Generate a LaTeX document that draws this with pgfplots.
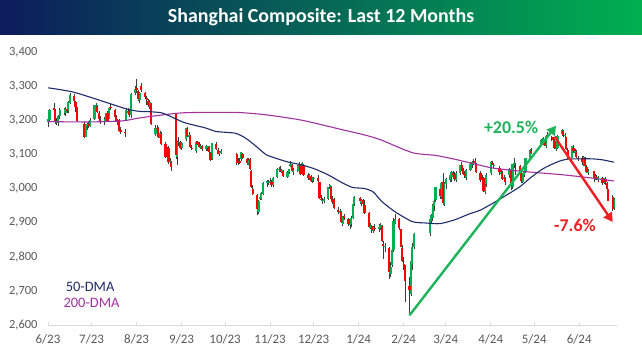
\documentclass[border=0pt]{standalone}
\usepackage{pgfplots}
\pgfplotsset{compat=1.18}
\usepackage{pgfplotstable}
\usepackage{fontspec}
\setmainfont{Carlito}
\usetikzlibrary{arrows.meta}
\definecolor{tnavy}{HTML}{0C1C5C}
\definecolor{tteal}{HTML}{09585C}
\definecolor{tgreen}{HTML}{00B050}
\definecolor{cgreen}{HTML}{00B050}
\definecolor{cred}{HTML}{FF0000}
\definecolor{wick}{HTML}{3C3C3C}
\definecolor{dnavy}{HTML}{1E2C6B}
\definecolor{dpurple}{HTML}{A033A0}
\definecolor{lgray}{HTML}{D9D9D9}
\definecolor{tgray}{HTML}{595959}
\definecolor{agreen}{HTML}{1DB35A}
\definecolor{ared}{HTML}{F01E23}

\pgfplotstableread{
d o h l c
0 3196 3210 3181 3204
1 3200 3232 3195 3230
4 3235 3250 3224 3232
5 3230 3233 3189 3195
6 3194 3208 3186 3197
7 3193 3215 3183 3213
8 3211 3235 3205 3231
11 3228 3235 3216 3228
12 3220 3238 3212 3234
13 3234 3240 3222 3229
14 3226 3255 3220 3253
15 3252 3279 3248 3273
18 3270 3278 3250 3255
19 3254 3256 3225 3240
20 3238 3240 3195 3197
25 3190 3196 3148 3150
26 3152 3190 3150 3189
27 3184 3192 3170 3189
28 3190 3197 3177 3182
29 3183 3206 3180 3202
32 3205 3245 3200 3244
33 3243 3250 3235 3245
34 3240 3246 3220 3223
35 3222 3226 3200 3205
36 3200 3212 3190 3197
39 3198 3210 3185 3203
40 3200 3222 3195 3221
41 3220 3226 3195 3196
42 3205 3240 3203 3237
43 3240 3248 3230 3238
46 3230 3232 3205 3210
47 3210 3215 3195 3198
48 3195 3205 3185 3199
49 3200 3205 3165 3169
50 3170 3180 3160 3168
53 3165 3175 3150 3164
54 3200 3235 3198 3231
55 3228 3235 3215 3223
56 3225 3230 3210 3216
57 3216 3280 3208 3276
60 3280 3300 3275 3291
61 3295 3322 3280 3290
62 3285 3290 3255 3262
63 3260 3284 3250 3281
64 3300 3310 3282 3288
67 3280 3282 3262 3269
68 3265 3270 3245 3260
69 3255 3262 3240 3244
70 3240 3258 3232 3254
71 3250 3252 3185 3189
74 3160 3185 3155 3178
75 3178 3185 3168 3176
76 3176 3180 3148 3150
77 3148 3168 3145 3163
78 3160 3166 3128 3131
81 3130 3135 3088 3092
82 3095 3123 3085 3120
83 3118 3125 3072 3078
84 3080 3088 3065 3082
85 3075 3080 3052 3064
88 3219 3219 3086 3098
89 3093 3138 3070 3135
90 3136 3150 3125 3137
91 3135 3140 3115 3119
92 3118 3135 3112 3133
95 3145 3178 3140 3177
96 3175 3180 3150 3154
97 3150 3165 3145 3158
98 3155 3158 3120 3122
99 3120 3128 3112 3117
102 3110 3140 3105 3137
103 3135 3140 3128 3134
104 3130 3135 3120 3123
105 3120 3130 3115 3126
106 3125 3128 3110 3117
109 3115 3128 3110 3125
110 3122 3126 3110 3124
111 3122 3125 3105 3108
112 3105 3108 3082 3084
113 3085 3134 3083 3132
116 3130 3135 3112 3115
117 3112 3118 3100 3102
118 3100 3110 3095 3107
119 3105 3115 3100 3110
130 3100 3105 3068 3076
131 3078 3090 3070 3075
132 3080 3090 3072 3078
133 3085 3108 3082 3107
134 3100 3105 3085 3088
137 3085 3090 3070 3074
138 3072 3088 3068 3084
139 3085 3090 3055 3058
140 3050 3055 3002 3005
141 3000 3010 2980 2983
144 2980 2985 2923 2939
145 2930 2965 2925 2962
146 2970 2985 2965 2974
147 2970 2990 2965 2988
148 2985 3020 2980 3017
151 3015 3025 3005 3021
152 3018 3025 3010 3019
153 3020 3030 3010 3023
154 3020 3025 3005 3009
155 3010 3035 3005 3030
158 3035 3060 3030 3058
159 3055 3062 3048 3057
160 3055 3065 3048 3052
161 3050 3058 3045 3053
162 3050 3055 3035 3038
165 3035 3050 3030 3047
166 3047 3058 3042 3056
167 3065 3080 3062 3073
168 3070 3072 3048 3050
169 3048 3060 3040 3054
172 3052 3070 3048 3068
173 3068 3078 3060 3067
174 3065 3068 3040 3043
175 3045 3078 3042 3074
176 3070 3072 3038 3041
179 3040 3045 3025 3031
180 3030 3042 3025 3039
181 3038 3040 3018 3021
182 3022 3035 3015 3030
183 3028 3035 3018 3032
186 3030 3040 3018 3022
187 3018 3020 2968 2972
188 2970 2980 2962 2969
189 2965 2972 2955 2966
190 2965 2975 2958 2969
193 2970 3005 2965 3003
194 3005 3012 2998 3009
195 3005 3008 2965 2968
196 2970 2978 2955 2959
197 2965 2972 2940 2942
200 2938 2945 2925 2930
201 2928 2940 2920 2933
202 2932 2935 2898 2902
203 2895 2920 2890 2918
204 2918 2925 2908 2914
207 2912 2915 2890 2895
208 2895 2900 2882 2898
209 2896 2918 2888 2915
210 2915 2958 2912 2954
211 2955 2978 2950 2975
215 2972 2976 2955 2962
216 2958 2970 2950 2967
217 2965 2968 2950 2954
218 2952 2965 2925 2929
221 2928 2932 2885 2887
222 2885 2898 2880 2893
223 2890 2892 2870 2877
224 2875 2890 2870 2886
225 2885 2895 2875 2882
228 2880 2895 2872 2886
229 2885 2900 2878 2894
230 2890 2892 2843 2845
231 2838 2845 2792 2833
232 2830 2840 2815 2832
235 2825 2830 2735 2756
236 2750 2785 2740 2770
237 2775 2825 2770 2820
238 2820 2915 2815 2906
239 2900 2925 2895 2910
242 2910 2915 2878 2883
243 2880 2882 2828 2830
244 2827 2835 2785 2789
245 2780 2798 2760 2771
246 2770 2775 2666 2730
249 2715 2740 2635 2702
250 2690 2795 2685 2789
251 2780 2840 2760 2829
252 2830 2870 2822 2866
263 2870 2912 2860 2910
264 2905 2925 2895 2922
265 2915 2955 2905 2951
266 2948 2966 2935 2964
267 2965 3005 2960 3004
270 3000 3010 2970 2977
271 2975 3018 2970 3015
272 3018 3045 2952 2958
273 2955 3018 2950 3015
274 3012 3030 3000 3027
277 3025 3045 3020 3039
278 3035 3050 3020 3048
279 3045 3052 3030 3040
280 3040 3048 3022 3027
281 3025 3050 3020 3046
284 3045 3070 3040 3068
285 3068 3078 3050 3055
286 3055 3060 3040 3043
287 3042 3050 3030 3036
288 3030 3058 3025 3054
291 3055 3078 3052 3073
292 3070 3082 3060 3079
293 3075 3085 3068 3079
294 3080 3090 3070 3077
295 3072 3075 3045 3048
298 3045 3050 3020 3026
299 3025 3040 3020 3031
300 3030 3035 2990 2993
301 2990 3015 2985 3011
302 3012 3045 3005 3041
305 3045 3080 3040 3077
306 3075 3080 3068 3074
307 3068 3075 3060 3069
311 3060 3065 3040 3047
312 3045 3055 3035 3048
313 3045 3050 3025 3027
314 3030 3040 3020 3034
315 3030 3035 3010 3019
318 3040 3060 3030 3057
319 3055 3058 2995 3007
320 3005 3072 3000 3071
321 3070 3090 3060 3074
322 3065 3075 3040 3065
325 3065 3070 3040 3045
326 3045 3048 3015 3021
327 3020 3045 3015 3044
328 3040 3060 3035 3052
329 3050 3090 3045 3088
332 3090 3115 3085 3113
333 3110 3120 3100 3105
340 3130 3145 3125 3141
341 3140 3150 3135 3148
342 3140 3145 3125 3128
343 3125 3156 3120 3155
344 3155 3165 3145 3154
347 3150 3155 3140 3149
348 3148 3150 3135 3145
349 3140 3145 3115 3119
350 3118 3125 3110 3122
351 3120 3158 3115 3155
354 3160 3175 3155 3171
355 3168 3172 3150 3157
356 3155 3162 3145 3158
357 3150 3152 3112 3116
358 3112 3118 3085 3089
361 3090 3125 3088 3124
362 3120 3128 3105 3110
363 3105 3115 3100 3111
364 3108 3112 3088 3091
365 3090 3095 3080 3087
368 3090 3095 3070 3078
369 3070 3095 3065 3091
370 3090 3092 3060 3065
371 3062 3068 3045 3049
372 3048 3058 3040 3051
376 3050 3052 3020 3028
377 3028 3042 3025 3037
378 3035 3040 3025 3029
379 3025 3038 3020 3033
382 3030 3035 3010 3016
383 3015 3032 3012 3030
384 3028 3035 3010 3018
385 3015 3020 2995 2998
386 2998 3000 2962 2964
389 2975 2980 2935 2940
390 2942 2972 2938 2968
}\ohlc

\pgfplotstableread{
d v
0 3295
5 3292
17 3283
28 3269
41 3251
55 3232
63 3226
70 3225
78 3222
84 3212
94 3193
108 3178
116 3167
129 3162
136 3148
143 3125
150 3100
156 3090
165 3078
175 3069
184 3057
193 3040
203 3016
210 3003
218 3000
224 2990
230 2962
239 2932
251 2903
260 2899
270 2897
280 2908
290 2925
298 2937
307 2958
316 2981
325 3005
332 3030
341 3058
351 3078
358 3086
374 3087
382 3084
390 3077
}\dmafifty

\pgfplotstableread{
d v
0 3196
28 3195
51 3198
62 3206
74 3213
94 3222
129 3223
150 3216
175 3200
203 3172
218 3157
229 3143
251 3105
267 3097
280 3086
291 3075
305 3061
316 3055
330 3049
355 3040
374 3031
390 3022
}\dmatwohundred

\begin{document}
\begin{tikzpicture}[x=1bp,y=1bp]
\useasboundingbox (0,0) rectangle (642,351);
\shade[left color=tnavy, middle color=tteal, right color=tgreen] (0,317) rectangle (642,351);
\node[text=white, font=\fontsize{20}{22}\selectfont\bfseries] at (321,334) {Shanghai Composite: Last 12 Months};
\begin{axis}[
  at={(48bp,26bp)}, anchor=south west, scale only axis,
  width=569bp, height=273bp,
  xmin=0, xmax=392, ymin=2600, ymax=3400,
  clip=false,
  axis x line*=bottom, axis y line*=left,
  axis line style={-},
  x axis line style={draw=lgray, line width=0.8bp},
  y axis line style={draw=none},
  ytick={2600,2700,...,3400},
  xtick={0,30,61,92,122,153,183,214,245,274,305,335,366},
  xticklabels={6/23,7/23,8/23,9/23,10/23,11/23,12/23,1/24,2/24,3/24,4/24,5/24,6/24},
  tick align=inside, major tick length=3bp,
  xtick style={draw=lgray, line width=0.8bp},
  ytick style={draw=none},
  /pgf/number format/.cd, 1000 sep={,}, assume math mode=true,
  /pgfplots/.cd,
  yticklabel style={font=\fontsize{12.5}{14}\selectfont, text=tgray, anchor=east, xshift=-7bp},
  xticklabel style={font=\fontsize{13}{15}\selectfont, text=tgray, anchor=north, yshift=-6bp},
]
% wicks: thin high-low lines
\addplot[draw=none, mark=none, forget plot,
  error bars/.cd, y dir=both, y explicit, error mark=none,
  error bar style={line width=0.45bp, draw=wick, solid}]
  table[x=d, y expr={(\thisrow{h}+\thisrow{l})/2}, y error expr={(\thisrow{h}-\thisrow{l})/2}] {\ohlc};
% bodies, green for rising days
\addplot[draw=none, mark=none, forget plot,
  error bars/.cd, y dir=both, y explicit, error mark=none,
  error bar style={line width=2.2bp, draw=cgreen, solid, line cap=butt}]
  table[x=d, y expr={(\thisrow{o}+\thisrow{c})/2}, y error expr={max(\thisrow{c}-\thisrow{o},0)/2}] {\ohlc};
% red for falling days
\addplot[draw=none, mark=none, forget plot,
  error bars/.cd, y dir=both, y explicit, error mark=none,
  error bar style={line width=2.2bp, draw=cred, solid, line cap=butt}]
  table[x=d, y expr={(\thisrow{o}+\thisrow{c})/2}, y error expr={max(\thisrow{o}-\thisrow{c},0)/2}] {\ohlc};
% moving averages
\addplot[color=dpurple, line width=1.1bp, smooth, tension=0.4] table[x=d, y=v] {\dmatwohundred};
\addplot[color=dnavy, line width=1.1bp, smooth, tension=0.4] table[x=d, y=v] {\dmafifty};
% arrows
\addplot[color=agreen, line width=2.4bp, -{Triangle[length=9bp,width=10bp]}] coordinates {(249,2628) (350,3184)};
\addplot[color=ared, line width=2.4bp, -{Triangle[length=9bp,width=10bp]}] coordinates {(349,3152) (389,2902)};
\node[text=agreen, font=\fontsize{18}{20}\selectfont\bfseries] at (axis cs:319,3178) {+20.5\%};
\node[text=ared, font=\fontsize{18}{20}\selectfont\bfseries] at (axis cs:363,2893) {-7.6\%};
\node[text=dnavy, font=\fontsize{14.5}{16}\selectfont] at (axis cs:29,2711) {50-DMA};
\node[text=dpurple, font=\fontsize{14.5}{16}\selectfont] at (axis cs:30,2665) {200-DMA};
\end{axis}
\end{tikzpicture}
\end{document}
